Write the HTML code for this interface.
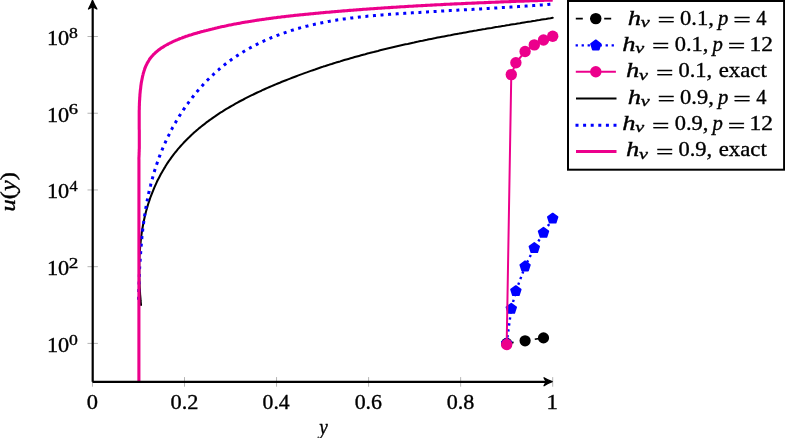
<!DOCTYPE html>
<html><head><meta charset="utf-8"><title>u(y) plot</title><style>
html,body{margin:0;padding:0;background:#fff;overflow:hidden;}
svg{display:block;}
text{font-family:"Liberation Serif","DejaVu Serif",serif;fill:#000;stroke:#000;stroke-width:0.35px;}
</style></head><body>
<svg width="785" height="438" viewBox="0 0 785 438">
<rect x="0" y="0" width="785" height="438" fill="#fff"/>
<path d="M92.45 377.1V386.7 M184.50 377.1V386.7 M276.55 377.1V386.7 M368.60 377.1V386.7 M460.65 377.1V386.7 M552.70 377.1V386.7 M87.5 343.40H97.9 M87.5 266.68H97.9 M87.5 189.96H97.9 M87.5 113.24H97.9 M87.5 36.52H97.9" stroke="#b4b4b4" stroke-width="1" fill="none"/>
<defs><clipPath id="cp"><rect x="92" y="0" width="470" height="382"/></clipPath></defs>
<g clip-path="url(#cp)">
<path d="M506.68 343.40 L525.09 340.80 L543.50 337.90" stroke="#000" stroke-width="1.7" fill="none" stroke-dasharray="7 7.2"/>
<circle cx="506.68" cy="343.40" r="5.60" fill="#000"/>
<circle cx="525.09" cy="340.80" r="5.60" fill="#000"/>
<circle cx="543.50" cy="337.90" r="5.60" fill="#000"/>
<path d="M506.68 343.40 L511.28 308.80 L515.88 291.10 L525.09 266.40 L534.29 248.00 L543.50 232.80 L552.70 218.60" stroke="#0000ff" stroke-width="2.4" fill="none" stroke-dasharray="2.3 3.7"/>
<polygon points="506.68,338.30 501.82,341.82 503.68,347.53 509.67,347.53 511.53,341.82" fill="#0000ff" stroke="#0000ff" stroke-width="1.7" stroke-linejoin="round"/>
<polygon points="511.28,303.70 506.43,307.22 508.28,312.93 514.28,312.93 516.13,307.22" fill="#0000ff" stroke="#0000ff" stroke-width="1.7" stroke-linejoin="round"/>
<polygon points="515.88,286.00 511.03,289.52 512.88,295.23 518.88,295.23 520.73,289.52" fill="#0000ff" stroke="#0000ff" stroke-width="1.7" stroke-linejoin="round"/>
<polygon points="525.09,261.30 520.23,264.82 522.09,270.53 528.08,270.53 529.94,264.82" fill="#0000ff" stroke="#0000ff" stroke-width="1.7" stroke-linejoin="round"/>
<polygon points="534.29,242.90 529.44,246.42 531.29,252.13 537.29,252.13 539.14,246.42" fill="#0000ff" stroke="#0000ff" stroke-width="1.7" stroke-linejoin="round"/>
<polygon points="543.50,227.70 538.64,231.22 540.50,236.93 546.49,236.93 548.35,231.22" fill="#0000ff" stroke="#0000ff" stroke-width="1.7" stroke-linejoin="round"/>
<polygon points="552.70,213.50 547.85,217.02 549.70,222.73 555.70,222.73 557.55,217.02" fill="#0000ff" stroke="#0000ff" stroke-width="1.7" stroke-linejoin="round"/>
<path d="M506.68 344.50 L511.28 74.60 L515.88 62.80 L525.09 51.50 L534.29 44.90 L543.50 40.00 L552.70 36.20" stroke="#ec008c" stroke-width="2" fill="none"/>
<circle cx="506.68" cy="344.50" r="5.70" fill="#ec008c"/>
<circle cx="511.28" cy="74.60" r="5.70" fill="#ec008c"/>
<circle cx="515.88" cy="62.80" r="5.70" fill="#ec008c"/>
<circle cx="525.09" cy="51.50" r="5.70" fill="#ec008c"/>
<circle cx="534.29" cy="44.90" r="5.70" fill="#ec008c"/>
<circle cx="543.50" cy="40.00" r="5.70" fill="#ec008c"/>
<circle cx="552.70" cy="36.20" r="5.70" fill="#ec008c"/>
<path d="M141.0 304.9 140.8 302.8 140.6 300.7 140.5 298.5 140.3 296.4 140.1 294.3 140.0 292.1 139.9 289.9 139.7 287.8 139.6 285.6 139.5 283.4 139.5 281.2 139.4 279.0 139.3 276.8 139.3 274.6 139.3 272.4 139.3 270.2 139.3 268.0 139.3 265.8 139.3 263.5 139.4 261.3 139.4 259.1 139.5 256.9 139.6 254.6 139.8 252.4 139.9 250.2 140.1 247.9 140.2 245.7 140.5 243.5 140.7 241.3 140.9 239.1 141.2 236.8 141.5 234.6 141.8 232.4 142.1 230.2 142.5 228.0 142.9 225.8 143.3 223.6 143.7 221.4 144.2 219.3 144.7 217.1 145.2 214.9 145.7 212.8 146.3 210.6 146.9 208.5 147.5 206.4 148.1 204.3 148.8 202.2 149.5 200.1 150.2 198.0 151.0 195.9 151.8 193.9 152.6 191.8 153.4 189.8 154.2 187.8 155.1 185.8 156.0 183.8 156.9 181.8 157.9 179.8 158.9 177.9 159.9 176.0 160.9 174.1 162.0 172.2 163.1 170.3 164.2 168.4 165.3 166.6 166.4 164.7 167.6 162.9 168.8 161.1 170.1 159.4 171.3 157.6 172.6 155.9 173.9 154.2 175.2 152.5 176.6 150.8 177.9 149.2 179.3 147.6 180.7 146.0 182.2 144.4 183.6 142.8 185.1 141.2 186.6 139.7 188.1 138.2 189.7 136.7 191.2 135.2 192.8 133.8 194.4 132.3 196.0 130.9 197.7 129.5 199.3 128.1 201.0 126.7 202.7 125.4 204.4 124.1 206.1 122.7 207.9 121.4 209.6 120.1 211.4 118.9 213.2 117.6 215.0 116.4 216.8 115.1 218.6 113.9 220.4 112.7 222.3 111.6 224.1 110.4 226.0 109.2 227.9 108.1 229.8 107.0 231.7 105.9 233.6 104.8 235.5 103.7 237.5 102.6 239.4 101.5 241.4 100.5 243.4 99.5 245.3 98.4 247.3 97.4 249.3 96.4 251.3 95.4 253.3 94.5 255.3 93.5 257.3 92.5 259.4 91.6 261.4 90.7 263.4 89.7 265.5 88.8 267.5 87.9 269.5 87.0 271.6 86.1 273.6 85.3 275.7 84.4 277.8 83.5 279.8 82.7 281.9 81.8 283.9 81.0 286.0 80.2 288.1 79.4 290.1 78.6 292.2 77.8 294.3 77.0 296.3 76.2 298.4 75.4 300.5 74.6 302.5 73.9 304.6 73.1 306.7 72.4 308.8 71.6 310.8 70.9 312.9 70.2 315.0 69.5 317.1 68.7 319.2 68.0 321.2 67.3 323.3 66.6 325.4 66.0 327.5 65.3 329.6 64.6 331.7 64.0 333.8 63.3 335.9 62.6 338.0 62.0 340.1 61.4 342.1 60.7 344.2 60.1 346.3 59.5 348.4 58.9 350.5 58.3 352.6 57.7 354.7 57.1 356.8 56.5 359.0 55.9 361.1 55.3 363.2 54.7 365.3 54.2 367.4 53.6 369.5 53.1 371.6 52.5 373.7 52.0 375.8 51.4 377.9 50.9 380.1 50.3 382.2 49.8 384.3 49.3 386.4 48.8 388.5 48.3 390.7 47.8 392.8 47.3 394.9 46.8 397.0 46.3 399.2 45.8 401.3 45.3 403.4 44.8 405.5 44.3 407.7 43.9 409.8 43.4 411.9 42.9 414.1 42.5 416.2 42.0 418.3 41.6 420.5 41.1 422.6 40.7 424.7 40.2 426.9 39.8 429.0 39.3 431.2 38.9 433.3 38.5 435.5 38.1 437.6 37.6 439.7 37.2 441.9 36.8 444.0 36.4 446.2 36.0 448.3 35.6 450.5 35.2 452.6 34.7 454.8 34.3 457.0 33.9 459.1 33.6 461.3 33.2 463.4 32.8 465.6 32.4 467.7 32.0 469.9 31.6 472.1 31.2 474.2 30.8 476.4 30.5 478.6 30.1 480.7 29.7 482.9 29.3 485.1 29.0 487.2 28.6 489.4 28.2 491.6 27.9 493.7 27.5 495.9 27.1 498.1 26.8 500.3 26.4 502.4 26.0 504.6 25.7 506.8 25.3 509.0 25.0 511.1 24.6 513.3 24.2 515.5 23.9 517.7 23.5 519.9 23.2 522.1 22.8 524.2 22.4 526.4 22.1 528.6 21.7 530.8 21.4 533.0 21.0 535.2 20.7 537.4 20.3 539.6 20.0 541.8 19.6 544.0 19.2 546.1 18.9 548.3 18.5 550.5 18.2 552.7 17.8" stroke="#000" stroke-width="2.05" fill="none" stroke-linejoin="round" stroke-linecap="round"/>
<path d="M138.5 299.7 138.5 298.2 138.6 296.8 138.6 295.3 138.7 293.8 138.7 292.4 138.7 290.9 138.8 289.4 138.8 288.0 138.9 286.5 139.0 285.0 139.0 283.6 139.1 282.1 139.1 280.6 139.2 279.1 139.2 277.6 139.3 276.2 139.4 274.7 139.4 273.2 139.5 271.7 139.6 270.2 139.6 268.7 139.7 267.2 139.8 265.8 139.9 264.3 140.0 262.8 140.1 261.3 140.2 259.8 140.2 258.3 140.3 256.8 140.4 255.3 140.6 253.8 140.7 252.3 140.8 250.8 140.9 249.3 141.0 247.8 141.1 246.3 141.3 244.8 141.4 243.3 141.5 241.8 141.7 240.3 141.8 238.8 141.9 237.3 142.1 235.8 142.3 234.3 142.4 232.8 142.6 231.3 142.7 229.8 142.9 228.3 143.1 226.9 143.3 225.4 143.5 223.9 143.7 222.4 143.9 220.9 144.1 219.4 144.3 217.9 144.5 216.4 144.7 214.9 145.0 213.4 145.2 211.9 145.4 210.4 145.7 208.9 145.9 207.5 146.2 206.0 146.5 204.5 146.7 203.0 147.0 201.5 147.3 200.0 147.6 198.6 147.9 197.1 148.2 195.6 148.5 194.1 148.8 192.7 149.2 191.2 149.5 189.7 149.8 188.3 150.2 186.8 150.6 185.3 150.9 183.9 151.3 182.4 151.7 181.0 152.1 179.5 152.5 178.1 152.9 176.6 153.3 175.2 153.7 173.7 154.1 172.3 154.6 170.8 155.0 169.4 155.5 168.0 155.9 166.5 156.4 165.1 156.9 163.7 157.4 162.3 157.9 160.8 158.4 159.4 158.9 158.0 159.4 156.6 160.0 155.2 160.5 153.8 161.1 152.4 161.6 151.0 162.2 149.6 162.8 148.2 163.4 146.8 164.0 145.4 164.6 144.0 165.2 142.7 165.8 141.3 166.4 139.9 167.1 138.6 167.7 137.2 168.4 135.9 169.1 134.5 169.7 133.2 170.4 131.8 171.1 130.5 171.8 129.1 172.5 127.8 173.3 126.5 174.0 125.2 174.7 123.9 175.5 122.6 176.2 121.3 177.0 120.0 177.8 118.7 178.5 117.4 179.3 116.1 180.1 114.9 180.9 113.6 181.7 112.3 182.6 111.1 183.4 109.8 184.2 108.6 185.1 107.3 185.9 106.1 186.8 104.9 187.7 103.7 188.5 102.5 189.4 101.3 190.3 100.1 191.2 98.9 192.1 97.7 193.1 96.5 194.0 95.3 194.9 94.2 195.9 93.0 196.8 91.9 197.8 90.7 198.8 89.6 199.7 88.5 200.7 87.4 201.7 86.3 202.7 85.2 203.7 84.1 204.7 83.0 205.8 81.9 206.8 80.8 207.8 79.8 208.9 78.7 209.9 77.7 211.0 76.6 212.1 75.6 213.2 74.6 214.2 73.6 215.3 72.6 216.4 71.6 217.5 70.6 218.7 69.7 219.8 68.7 220.9 67.7 222.1 66.8 223.2 65.9 224.4 64.9 225.5 64.0 226.7 63.1 227.9 62.2 229.1 61.3 230.3 60.4 231.5 59.6 232.7 58.7 233.9 57.9 235.1 57.0 236.3 56.2 237.6 55.4 238.8 54.6 240.1 53.8 241.3 53.0 242.6 52.2 243.8 51.5 245.1 50.7 246.4 50.0 247.7 49.2 249.0 48.5 250.3 47.8 251.6 47.1 252.9 46.4 254.2 45.7 255.5 45.0 256.9 44.3 258.2 43.7 259.5 43.0 260.9 42.4 262.2 41.7 263.6 41.1 265.0 40.5 266.3 39.9 267.7 39.3 269.1 38.7 270.4 38.1 271.8 37.5 273.2 37.0 274.6 36.4 276.0 35.9 277.4 35.3 278.8 34.8 280.2 34.3 281.6 33.8 283.0 33.3 284.4 32.8 285.9 32.3 287.3 31.8 288.7 31.3 290.1 30.9 291.6 30.4 293.0 30.0 294.4 29.5 295.9 29.1 297.3 28.7 298.8 28.3 300.2 27.9 301.7 27.5 303.1 27.1 304.6 26.7 306.0 26.3 307.5 26.0 308.9 25.6 310.4 25.2 311.9 24.9 313.3 24.6 314.8 24.2 316.3 23.9 317.7 23.6 319.2 23.3 320.7 23.0 322.2 22.7 323.6 22.4 325.1 22.1 326.6 21.8 328.1 21.5 329.6 21.3 331.0 21.0 332.5 20.8 334.0 20.5 335.5 20.3 337.0 20.0 338.5 19.8 340.0 19.6 341.5 19.3 343.0 19.1 344.5 18.9 346.0 18.7 347.5 18.5 349.0 18.3 350.5 18.1 352.0 17.9 353.5 17.7 355.0 17.6 356.5 17.4 358.0 17.2 359.5 17.0 361.0 16.9 362.5 16.7 364.0 16.5 365.5 16.4 367.0 16.2 368.5 16.1 370.0 16.0 371.5 15.8 373.0 15.7 374.5 15.5 376.0 15.4 377.5 15.3 379.1 15.1 380.6 15.0 382.1 14.9 383.6 14.8 385.1 14.7 386.6 14.5 388.1 14.4 389.6 14.3 391.1 14.2 392.6 14.1 394.1 14.0 395.7 13.9 397.2 13.8 398.7 13.7 400.2 13.6 401.7 13.5 403.2 13.4 404.7 13.3 406.2 13.2 407.7 13.1 409.2 13.0 410.7 12.9 412.2 12.8 413.7 12.7 415.2 12.6 416.7 12.5 418.2 12.4 419.7 12.4 421.2 12.3 422.7 12.2 424.2 12.1 425.7 12.0 427.2 11.9 428.7 11.8 430.2 11.7 431.7 11.6 433.2 11.6 434.7 11.5 436.2 11.4 437.7 11.3 439.2 11.2 440.7 11.1 442.1 11.0 443.6 11.0 445.1 10.9 446.6 10.8 448.1 10.7 449.6 10.6 451.1 10.5 452.6 10.5 454.1 10.4 455.6 10.3 457.1 10.2 458.6 10.1 460.0 10.0 461.5 10.0 463.0 9.9 464.5 9.8 466.0 9.7 467.5 9.6 469.0 9.5 470.5 9.4 472.0 9.4 473.5 9.3 474.9 9.2 476.4 9.1 477.9 9.0 479.4 8.9 480.9 8.9 482.4 8.8 483.9 8.7 485.4 8.6 486.9 8.5 488.4 8.4 489.8 8.3 491.3 8.3 492.8 8.2 494.3 8.1 495.8 8.0 497.3 7.9 498.8 7.8 500.3 7.7 501.8 7.6 503.3 7.5 504.8 7.4 506.2 7.4 507.7 7.3 509.2 7.2 510.7 7.1 512.2 7.0 513.7 6.9 515.2 6.8 516.7 6.7 518.2 6.6 519.7 6.5 521.2 6.4 522.7 6.3 524.2 6.2 525.7 6.1 527.2 6.0 528.7 5.9 530.2 5.8 531.7 5.7 533.2 5.6 534.7 5.5 536.2 5.4 537.7 5.2 539.2 5.1 540.7 5.0 542.2 4.9 543.7 4.8 545.2 4.7 546.7 4.6 548.2 4.4 549.7 4.3 551.2 4.2 552.7 4.1" stroke="#0000ff" stroke-width="3" fill="none" stroke-dasharray="3 4.6"/>
<path d="M138.9 383 L138.95 160 138.9 158.9 138.9 157.9 139.0 156.9 139.0 155.8 139.1 154.8 139.1 153.8 139.1 152.7 139.2 151.7 139.2 150.7 139.2 149.7 139.3 148.6 139.3 147.6 139.3 146.6 139.3 145.5 139.3 144.5 139.3 143.5 139.3 142.4 139.3 141.4 139.3 140.4 139.3 139.4 139.3 138.3 139.3 137.3 139.3 136.3 139.3 135.2 139.3 134.2 139.3 133.2 139.3 132.1 139.3 131.1 139.3 130.1 139.2 129.1 139.2 128.0 139.2 127.0 139.2 126.0 139.2 124.9 139.2 123.9 139.2 122.9 139.2 121.8 139.2 120.8 139.2 119.8 139.2 118.7 139.2 117.7 139.2 116.7 139.2 115.7 139.2 114.6 139.2 113.6 139.2 112.5 139.2 111.5 139.2 110.5 139.3 109.4 139.3 108.4 139.3 107.4 139.3 106.3 139.4 105.3 139.4 104.3 139.4 103.2 139.5 102.2 139.5 101.1 139.6 100.1 139.7 99.1 139.7 98.0 139.8 97.0 139.9 95.9 139.9 94.9 140.0 93.9 140.1 92.8 140.2 91.8 140.3 90.7 140.4 89.7 140.6 88.6 140.7 87.6 140.8 86.5 140.9 85.5 141.1 84.4 141.2 83.4 141.4 82.3 141.6 81.3 141.8 80.3 142.0 79.2 142.2 78.2 142.4 77.2 142.6 76.1 142.9 75.1 143.1 74.1 143.4 73.1 143.7 72.1 144.0 71.1 144.3 70.2 144.6 69.2 145.0 68.2 145.3 67.3 145.7 66.3 146.1 65.4 146.6 64.5 147.0 63.6 147.5 62.7 148.0 61.9 148.5 61.0 149.0 60.2 149.5 59.3 150.1 58.5 150.7 57.7 151.3 57.0 152.0 56.2 152.7 55.5 153.3 54.7 154.0 54.0 154.8 53.3 155.5 52.6 156.3 52.0 157.0 51.3 157.8 50.7 158.6 50.0 159.5 49.4 160.3 48.8 161.1 48.2 162.0 47.7 162.9 47.1 163.7 46.6 164.6 46.0 165.5 45.5 166.4 45.0 167.3 44.5 168.3 44.0 169.2 43.5 170.1 43.0 171.0 42.6 172.0 42.1 172.9 41.7 173.9 41.2 174.8 40.8 175.7 40.4 176.7 40.0 177.7 39.6 178.6 39.2 179.6 38.8 180.6 38.4 181.5 38.1 182.5 37.7 183.5 37.3 184.5 37.0 185.4 36.6 186.4 36.3 187.4 36.0 188.4 35.6 189.4 35.3 190.4 35.0 191.4 34.7 192.3 34.4 193.3 34.1 194.3 33.8 195.3 33.5 196.3 33.2 197.3 32.9 198.3 32.6 199.3 32.4 200.3 32.1 201.3 31.8 202.3 31.5 203.3 31.3 204.3 31.0 205.3 30.7 206.4 30.5 207.4 30.2 208.4 30.0 209.4 29.7 210.4 29.4 211.4 29.2 212.4 29.0 213.4 28.7 214.4 28.5 215.4 28.2 216.4 28.0 217.4 27.8 218.4 27.5 219.4 27.3 220.4 27.1 221.5 26.8 222.5 26.6 223.5 26.4 224.5 26.2 225.5 26.0 226.5 25.8 227.5 25.5 228.5 25.3 229.5 25.1 230.6 24.9 231.6 24.7 232.6 24.5 233.6 24.3 234.6 24.1 235.6 23.9 236.6 23.7 237.6 23.5 238.7 23.4 239.7 23.2 240.7 23.0 241.7 22.8 242.7 22.6 243.7 22.4 244.8 22.3 245.8 22.1 246.8 21.9 247.8 21.7 248.8 21.6 249.8 21.4 250.9 21.2 251.9 21.1 252.9 20.9 253.9 20.7 254.9 20.6 256.0 20.4 257.0 20.3 258.0 20.1 259.0 20.0 260.0 19.8 261.1 19.7 262.1 19.5 263.1 19.4 264.1 19.2 265.1 19.1 266.2 18.9 267.2 18.8 268.2 18.7 269.2 18.5 270.3 18.4 271.3 18.2 272.3 18.1 273.3 18.0 274.4 17.8 275.4 17.7 276.4 17.6 277.4 17.4 278.4 17.3 279.5 17.2 280.5 17.1 281.5 16.9 282.5 16.8 283.6 16.7 284.6 16.6 285.6 16.5 286.6 16.3 287.7 16.2 288.7 16.1 289.7 16.0 290.8 15.9 291.8 15.8 292.8 15.7 293.8 15.5 294.9 15.4 295.9 15.3 296.9 15.2 297.9 15.1 299.0 15.0 300.0 14.9 301.0 14.8 302.0 14.7 303.1 14.6 304.1 14.5 305.1 14.4 306.2 14.3 307.2 14.2 308.2 14.1 309.2 14.0 310.3 13.9 311.3 13.8 312.3 13.7 313.4 13.6 314.4 13.5 315.4 13.4 316.4 13.3 317.5 13.2 318.5 13.1 319.5 13.0 320.6 12.9 321.6 12.8 322.6 12.7 323.6 12.6 324.7 12.5 325.7 12.4 326.7 12.3 327.8 12.3 328.8 12.2 329.8 12.1 330.8 12.0 331.9 11.9 332.9 11.8 333.9 11.7 335.0 11.6 336.0 11.5 337.0 11.5 338.0 11.4 339.1 11.3 340.1 11.2 341.1 11.1 342.2 11.0 343.2 10.9 344.2 10.9 345.3 10.8 346.3 10.7 347.3 10.6 348.3 10.5 349.4 10.4 350.4 10.4 351.4 10.3 352.5 10.2 353.5 10.1 354.5 10.0 355.6 10.0 356.6 9.9 357.6 9.8 358.7 9.7 359.7 9.6 360.7 9.6 361.7 9.5 362.8 9.4 363.8 9.3 364.8 9.3 365.9 9.2 366.9 9.1 367.9 9.0 369.0 9.0 370.0 8.9 371.0 8.8 372.1 8.7 373.1 8.7 374.1 8.6 375.1 8.5 376.2 8.5 377.2 8.4 378.2 8.3 379.3 8.2 380.3 8.2 381.3 8.1 382.4 8.0 383.4 8.0 384.4 7.9 385.5 7.8 386.5 7.8 387.5 7.7 388.6 7.6 389.6 7.6 390.6 7.5 391.6 7.4 392.7 7.4 393.7 7.3 394.7 7.2 395.8 7.2 396.8 7.1 397.8 7.0 398.9 7.0 399.9 6.9 400.9 6.8 402.0 6.8 403.0 6.7 404.0 6.7 405.1 6.6 406.1 6.5 407.1 6.5 408.2 6.4 409.2 6.3 410.2 6.3 411.3 6.2 412.3 6.2 413.3 6.1 414.3 6.0 415.4 6.0 416.4 5.9 417.4 5.9 418.5 5.8 419.5 5.8 420.5 5.7 421.6 5.6 422.6 5.6 423.6 5.5 424.7 5.5 425.7 5.4 426.7 5.4 427.8 5.3 428.8 5.2 429.8 5.2 430.9 5.1 431.9 5.1 432.9 5.0 434.0 5.0 435.0 4.9 436.0 4.9 437.1 4.8 438.1 4.8 439.1 4.7 440.2 4.7 441.2 4.6 442.2 4.6 443.3 4.5 444.3 4.4 445.3 4.4 446.4 4.3 447.4 4.3 448.4 4.2 449.5 4.2 450.5 4.1 451.5 4.1 452.5 4.0 453.6 4.0 454.6 3.9 455.6 3.9 456.7 3.9 457.7 3.8 458.7 3.8 459.8 3.7 460.8 3.7 461.8 3.6 462.9 3.6 463.9 3.5 464.9 3.5 466.0 3.4 467.0 3.4 468.0 3.3 469.1 3.3 470.1 3.2 471.1 3.2 472.2 3.1 473.2 3.1 474.2 3.1 475.3 3.0 476.3 3.0 477.3 2.9 478.4 2.9 479.4 2.8 480.4 2.8 481.5 2.7 482.5 2.7 483.5 2.7 484.6 2.6 485.6 2.6 486.6 2.5 487.7 2.5 488.7 2.4 489.7 2.4 490.8 2.4 491.8 2.3 492.8 2.3 493.9 2.2 494.9 2.2 495.9 2.1 497.0 2.1 498.0 2.1 499.0 2.0 500.0 2.0 501.1 1.9 502.1 1.9 503.1 1.9 504.2 1.8 505.2 1.8 506.2 1.7 507.3 1.7 508.3 1.7 509.3 1.6 510.4 1.6 511.4 1.5 512.4 1.5 513.5 1.5 514.5 1.4 515.5 1.4 516.6 1.3 517.6 1.3 518.6 1.3 519.7 1.2 520.7 1.2 521.7 1.1 522.8 1.1 523.8 1.1 524.8 1.0 525.9 1.0 526.9 1.0 527.9 0.9 529.0 0.9 530.0 0.8 531.0 0.8 532.0 0.8 533.1 0.7 534.1 0.7 535.1 0.7 536.2 0.6 537.2 0.6 538.2 0.5 539.3 0.5 540.3 0.5 541.3 0.4 542.4 0.4 543.4 0.4 544.4 0.3 545.5 0.3 546.5 0.2 547.5 0.2 548.6 0.2 549.6 0.1 550.6 0.1 551.6 0.1 552.7 0.0" stroke="#ec008c" stroke-width="3.1" fill="none" stroke-linejoin="round"/>
</g>
<path d="M92.7 381.8V6.5M92.45 381.8H546" stroke="#000" stroke-width="2.2" fill="none"/>
<path d="M552.2 381.7 Q547.8 380.2 544.0 377.8 L546.2 381.7 L544.0 385.8 Q547.8 383.3 552.2 381.7Z" fill="#000" stroke="#000" stroke-width="1.3" stroke-linejoin="round"/>
<path d="M92.5 0.3 Q91 4.6 88.5 9.0 L92.5 6.7 L96.9 9.0 Q94.2 4.6 92.5 0.3Z" fill="#000" stroke="#000" stroke-width="1.3" stroke-linejoin="round"/>
<rect x="568" y="1" width="216.1" height="168.7" fill="#fff" stroke="#000" stroke-width="2"/>
<path d="M575.8 18.60H615.9" stroke="#000" stroke-width="1.7" stroke-dasharray="7 7.2"/>
<circle cx="595.80" cy="18.60" r="5.70" fill="#000"/>
<path d="M575.6 45.40H616.5" stroke="#0000ff" stroke-width="2.3" stroke-dasharray="2.3 3.7"/>
<polygon points="595.80,40.30 590.95,43.82 592.80,49.53 598.80,49.53 600.65,43.82" fill="#0000ff" stroke="#0000ff" stroke-width="1.7" stroke-linejoin="round"/>
<path d="M575.8 71.80H615.9" stroke="#ec008c" stroke-width="2"/>
<circle cx="595.80" cy="71.80" r="5.70" fill="#ec008c"/>
<path d="M576 98.40H616.5" stroke="#000" stroke-width="2.05"/>
<path d="M575.5 125.20H616.5" stroke="#0000ff" stroke-width="3" stroke-dasharray="3 4.6"/>
<path d="M576 151.50H616.5" stroke="#ec008c" stroke-width="3.1"/>
<text x="627.79" y="24.60" font-size="20.7" font-style="italic" textLength="13.24" lengthAdjust="spacingAndGlyphs">h</text>
<text x="640.72" y="26.80" font-size="15" font-style="italic" textLength="8.93" lengthAdjust="spacingAndGlyphs">v</text>
<text x="657.55" y="27.00" font-size="20.7" textLength="17.48" lengthAdjust="spacingAndGlyphs">=</text>
<text x="680.14" y="24.60" font-size="20.7" textLength="33.71" lengthAdjust="spacingAndGlyphs">0.1,</text>
<text x="718.00" y="24.60" font-size="20.7" font-style="italic" textLength="10.34" lengthAdjust="spacingAndGlyphs">p</text>
<text x="733.24" y="27.00" font-size="20.7" textLength="17.60" lengthAdjust="spacingAndGlyphs">=</text>
<text x="756.16" y="24.60" font-size="20.7" textLength="10.23" lengthAdjust="spacingAndGlyphs">4</text>
<text x="622.34" y="50.80" font-size="20.7" font-style="italic" textLength="13.24" lengthAdjust="spacingAndGlyphs">h</text>
<text x="635.27" y="53.00" font-size="15" font-style="italic" textLength="8.93" lengthAdjust="spacingAndGlyphs">v</text>
<text x="652.10" y="53.20" font-size="20.7" textLength="17.48" lengthAdjust="spacingAndGlyphs">=</text>
<text x="674.69" y="50.80" font-size="20.7" textLength="33.71" lengthAdjust="spacingAndGlyphs">0.1,</text>
<text x="712.55" y="50.80" font-size="20.7" font-style="italic" textLength="10.34" lengthAdjust="spacingAndGlyphs">p</text>
<text x="727.79" y="53.20" font-size="20.7" textLength="17.60" lengthAdjust="spacingAndGlyphs">=</text>
<text x="749.52" y="50.80" font-size="20.7" textLength="23.43" lengthAdjust="spacingAndGlyphs">12</text>
<text x="626.14" y="77.40" font-size="20.7" font-style="italic" textLength="13.24" lengthAdjust="spacingAndGlyphs">h</text>
<text x="639.07" y="79.60" font-size="15" font-style="italic" textLength="8.93" lengthAdjust="spacingAndGlyphs">v</text>
<text x="655.90" y="79.80" font-size="20.7" textLength="17.48" lengthAdjust="spacingAndGlyphs">=</text>
<text x="678.49" y="77.40" font-size="20.7" textLength="33.71" lengthAdjust="spacingAndGlyphs">0.1,</text>
<text x="718.78" y="77.40" font-size="20.7" textLength="47.98" lengthAdjust="spacingAndGlyphs">exact</text>
<text x="627.79" y="103.90" font-size="20.7" font-style="italic" textLength="13.24" lengthAdjust="spacingAndGlyphs">h</text>
<text x="640.72" y="106.10" font-size="15" font-style="italic" textLength="8.93" lengthAdjust="spacingAndGlyphs">v</text>
<text x="657.55" y="106.30" font-size="20.7" textLength="17.48" lengthAdjust="spacingAndGlyphs">=</text>
<text x="680.14" y="103.90" font-size="20.7" textLength="33.71" lengthAdjust="spacingAndGlyphs">0.9,</text>
<text x="718.00" y="103.90" font-size="20.7" font-style="italic" textLength="10.34" lengthAdjust="spacingAndGlyphs">p</text>
<text x="733.24" y="106.30" font-size="20.7" textLength="17.60" lengthAdjust="spacingAndGlyphs">=</text>
<text x="756.16" y="103.90" font-size="20.7" textLength="10.23" lengthAdjust="spacingAndGlyphs">4</text>
<text x="622.34" y="130.20" font-size="20.7" font-style="italic" textLength="13.24" lengthAdjust="spacingAndGlyphs">h</text>
<text x="635.27" y="132.40" font-size="15" font-style="italic" textLength="8.93" lengthAdjust="spacingAndGlyphs">v</text>
<text x="652.10" y="132.60" font-size="20.7" textLength="17.48" lengthAdjust="spacingAndGlyphs">=</text>
<text x="674.69" y="130.20" font-size="20.7" textLength="33.71" lengthAdjust="spacingAndGlyphs">0.9,</text>
<text x="712.55" y="130.20" font-size="20.7" font-style="italic" textLength="10.34" lengthAdjust="spacingAndGlyphs">p</text>
<text x="727.79" y="132.60" font-size="20.7" textLength="17.60" lengthAdjust="spacingAndGlyphs">=</text>
<text x="749.52" y="130.20" font-size="20.7" textLength="23.43" lengthAdjust="spacingAndGlyphs">12</text>
<text x="626.14" y="156.30" font-size="20.7" font-style="italic" textLength="13.24" lengthAdjust="spacingAndGlyphs">h</text>
<text x="639.07" y="158.50" font-size="15" font-style="italic" textLength="8.93" lengthAdjust="spacingAndGlyphs">v</text>
<text x="655.90" y="158.70" font-size="20.7" textLength="17.48" lengthAdjust="spacingAndGlyphs">=</text>
<text x="678.49" y="156.30" font-size="20.7" textLength="33.71" lengthAdjust="spacingAndGlyphs">0.9,</text>
<text x="718.78" y="156.30" font-size="20.7" textLength="47.98" lengthAdjust="spacingAndGlyphs">exact</text>
<text x="86.69" y="408.70" font-size="20.7" textLength="11.23" lengthAdjust="spacingAndGlyphs">0</text>
<text x="170.54" y="408.70" font-size="20.7" textLength="27.91" lengthAdjust="spacingAndGlyphs">0.2</text>
<text x="262.62" y="408.70" font-size="20.7" textLength="27.06" lengthAdjust="spacingAndGlyphs">0.4</text>
<text x="354.66" y="408.70" font-size="20.7" textLength="27.34" lengthAdjust="spacingAndGlyphs">0.6</text>
<text x="446.70" y="408.70" font-size="20.7" textLength="27.62" lengthAdjust="spacingAndGlyphs">0.8</text>
<text x="546.57" y="408.70" font-size="20.7" textLength="11.41" lengthAdjust="spacingAndGlyphs">1</text>
<text x="46.92" y="351.80" font-size="20.7" textLength="22.22" lengthAdjust="spacingAndGlyphs">10</text>
<text x="69.09" y="344.60" font-size="14.5" textLength="8.82" lengthAdjust="spacingAndGlyphs">0</text>
<text x="46.92" y="275.08" font-size="20.7" textLength="22.22" lengthAdjust="spacingAndGlyphs">10</text>
<text x="68.71" y="267.88" font-size="14.5" textLength="9.58" lengthAdjust="spacingAndGlyphs">2</text>
<text x="46.92" y="198.36" font-size="20.7" textLength="22.22" lengthAdjust="spacingAndGlyphs">10</text>
<text x="69.42" y="191.16" font-size="14.5" textLength="8.16" lengthAdjust="spacingAndGlyphs">4</text>
<text x="46.92" y="121.64" font-size="20.7" textLength="22.22" lengthAdjust="spacingAndGlyphs">10</text>
<text x="68.75" y="114.44" font-size="14.5" textLength="9.18" lengthAdjust="spacingAndGlyphs">6</text>
<text x="46.92" y="44.92" font-size="20.7" textLength="22.22" lengthAdjust="spacingAndGlyphs">10</text>
<text x="69.09" y="37.72" font-size="14.5" textLength="8.82" lengthAdjust="spacingAndGlyphs">8</text>
<text x="319.22" y="433.60" font-size="20.7" font-style="italic" textLength="8.52" lengthAdjust="spacingAndGlyphs">y</text>
<text transform="translate(15.4 211.38) rotate(-90)" x="0" y="0" font-size="20.7" textLength="39.34" lengthAdjust="spacingAndGlyphs"><tspan font-style="italic">u</tspan>(<tspan font-style="italic">y</tspan>)</text>
</svg>
</body></html>
